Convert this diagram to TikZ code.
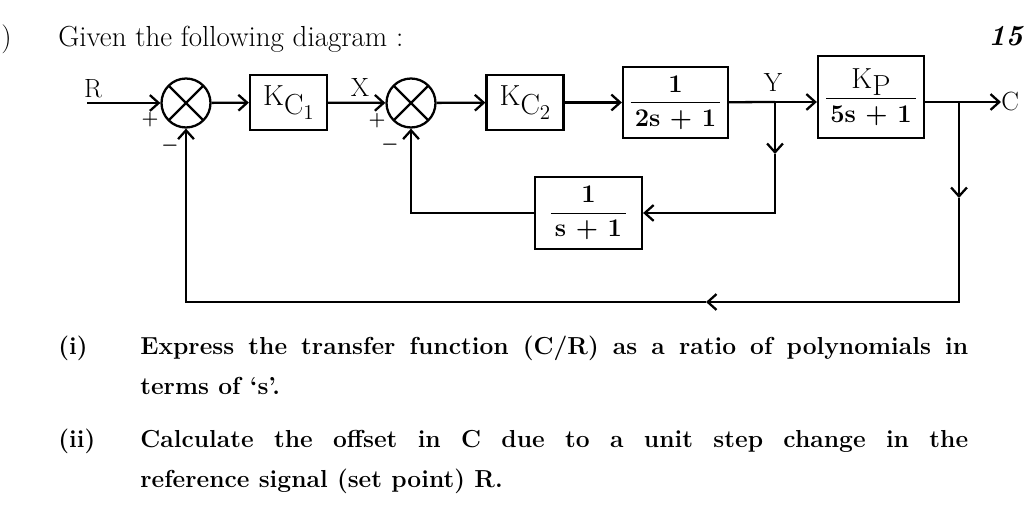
\documentclass[tikz,border=0pt]{standalone}
\usepackage{amsmath}
\usetikzlibrary{arrows, arrows.meta, positioning}
\tikzset{
  blockbox/.style={
    draw=black,
    line width=1.3pt,
    minimum width=1.54cm,
    minimum height=1.1cm,
    inner sep=1pt,
    align=center,
    font=\fontsize{14.5}{17}\selectfont
  },
  sumjunct/.style={
    circle,
    draw=black,
    line width=1.3pt,
    minimum size=0.98cm,
    inner sep=0pt,
    path picture={
      \draw[line width=1.3pt]
        (path picture bounding box.south west) -- (path picture bounding box.north east)
        (path picture bounding box.north west) -- (path picture bounding box.south east);
    }
  },
  signal/.style={inner sep=0pt, font=\fontsize{15}{18}\selectfont},
  sign/.style={inner sep=0pt, font=\fontsize{11}{13}\selectfont\bfseries},
  qtext/.style={inner sep=0pt, anchor=base west, font=\fontsize{16.5}{19}\selectfont},
  qbold/.style={inner sep=0pt, anchor=base west, font=\fontsize{14}{17}\selectfont\bfseries},
  arrow/.style={draw, line width=1.3pt, ->, >={Straight Barb[length=5pt,width=9pt]}}
}
\newcommand{\kcsub}[1]{{\fontsize{16.5}{19}\selectfont K\raisebox{-5pt}{C\raisebox{-3pt}{\fontsize{12}{14}\selectfont #1}}}}

\begin{document}
\begin{tikzpicture}[x=0.02cm, y=-0.02cm]
  \useasboundingbox (0,0) rectangle (1024,519);
  % heading
  \node (brk) [qtext] at (1,47) {)};
  \node (head) [qtext] at (58,47) {Given the following diagram :};
  \node (marks) [qtext, anchor=base east] at (1023,46) {\bfseries\itshape 15};
  % forward path
  \node (sum1) [sumjunct] at (186,103) {};
  \node (kc1) [blockbox] at (288.5,102.5) {\kcsub{1}};
  \node (sum2) [sumjunct] at (411,103) {};
  \node (kc2) [blockbox] at (525,102.5) {\kcsub{2}};
  \node (g1) [blockbox, minimum width=2.1cm, minimum height=1.42cm] at (675.5,102.5)
    {$\dfrac{\textbf{1}}{\,\textbf{2s + 1}\,}$};
  \node (kp) [blockbox, minimum width=2.12cm, minimum height=1.64cm] at (871,97)
    {$\dfrac{\text{\fontsize{16.5}{19}\selectfont K\raisebox{-4pt}{P}}}{\,\textbf{5s + 1}\,}$};
  \node (h) [blockbox, minimum width=2.14cm, minimum height=1.44cm] at (588.5,213)
    {$\dfrac{\textbf{1}}{\,\textbf{s + 1}\,}$};
  % signal labels
  \node (rlab) [signal] at (93,89) {R};
  \node (xlab) [signal] at (360,88) {X};
  \node (ylab) [signal] at (773,83) {Y};
  \node (clab) [signal, anchor=west] at (1001,102) {C};
  \node (p1) [sign] at (150,120) {+};
  \node (m1) [sign] at (170,146) {$\boldsymbol{-}$};
  \node (p2) [sign] at (377,121) {+};
  \node (m2) [sign] at (390,145) {$\boldsymbol{-}$};
  % branch points
  \coordinate (rin) at (87,103);
  \coordinate (ybr) at (775,102);
  \coordinate (cbr) at (959,102);
  \coordinate (hdown) at (775,154);
  \coordinate (hcorner) at (775,213);
  \coordinate (hleft) at (411,213);
  \coordinate (cdown) at (959,198);
  \coordinate (cbot) at (959,302);
  \coordinate (mbot) at (706,302);
  \coordinate (sbot) at (186,302);
  % connectors
  \draw[arrow] (rin) -- (sum1);
  \draw[arrow] (sum1) -- (kc1);
  \draw[arrow] (kc1) -- (sum2);
  \draw[arrow] (sum2) -- (kc2);
  \draw[arrow] (kc2) -- (g1);
  \draw[line width=1.3pt] (g1) -- (ybr);
  \draw[arrow] (ybr) -- (ybr -| kp.west);
  \draw[line width=1.3pt] (kp.east |- cbr) -- (cbr);
  \draw[arrow] (cbr) -- (clab);
  % inner loop
  \draw[arrow] (ybr) -- (hdown);
  \draw[arrow] (hdown) -- (hcorner) -- (h);
  \draw[arrow] (h) -- (hleft) -- (sum2);
  % outer loop
  \draw[arrow] (cbr) -- (cdown);
  \draw[arrow] (cdown) -- (cbot) -- (mbot);
  \draw[arrow] (mbot) -- (sbot) -- (sum1);
  % questions
  \node (qi) [qbold] at (58,355) {(i)};
  \node (qia) [qbold] at (140,355)
    {\makebox[16.56cm][s]{Express the transfer function (C/R) as a ratio of polynomials in}};
  \node (qib) [qbold] at (140,395) {terms of `s'.};
  \node (qii) [qbold] at (58,448) {(ii)};
  \node (qiia) [qbold] at (140,448)
    {\makebox[16.56cm][s]{Calculate the offset in C due to a unit step change in the}};
  \node (qiib) [qbold] at (140,488) {reference signal (set point) R.};
\end{tikzpicture}
\end{document}
